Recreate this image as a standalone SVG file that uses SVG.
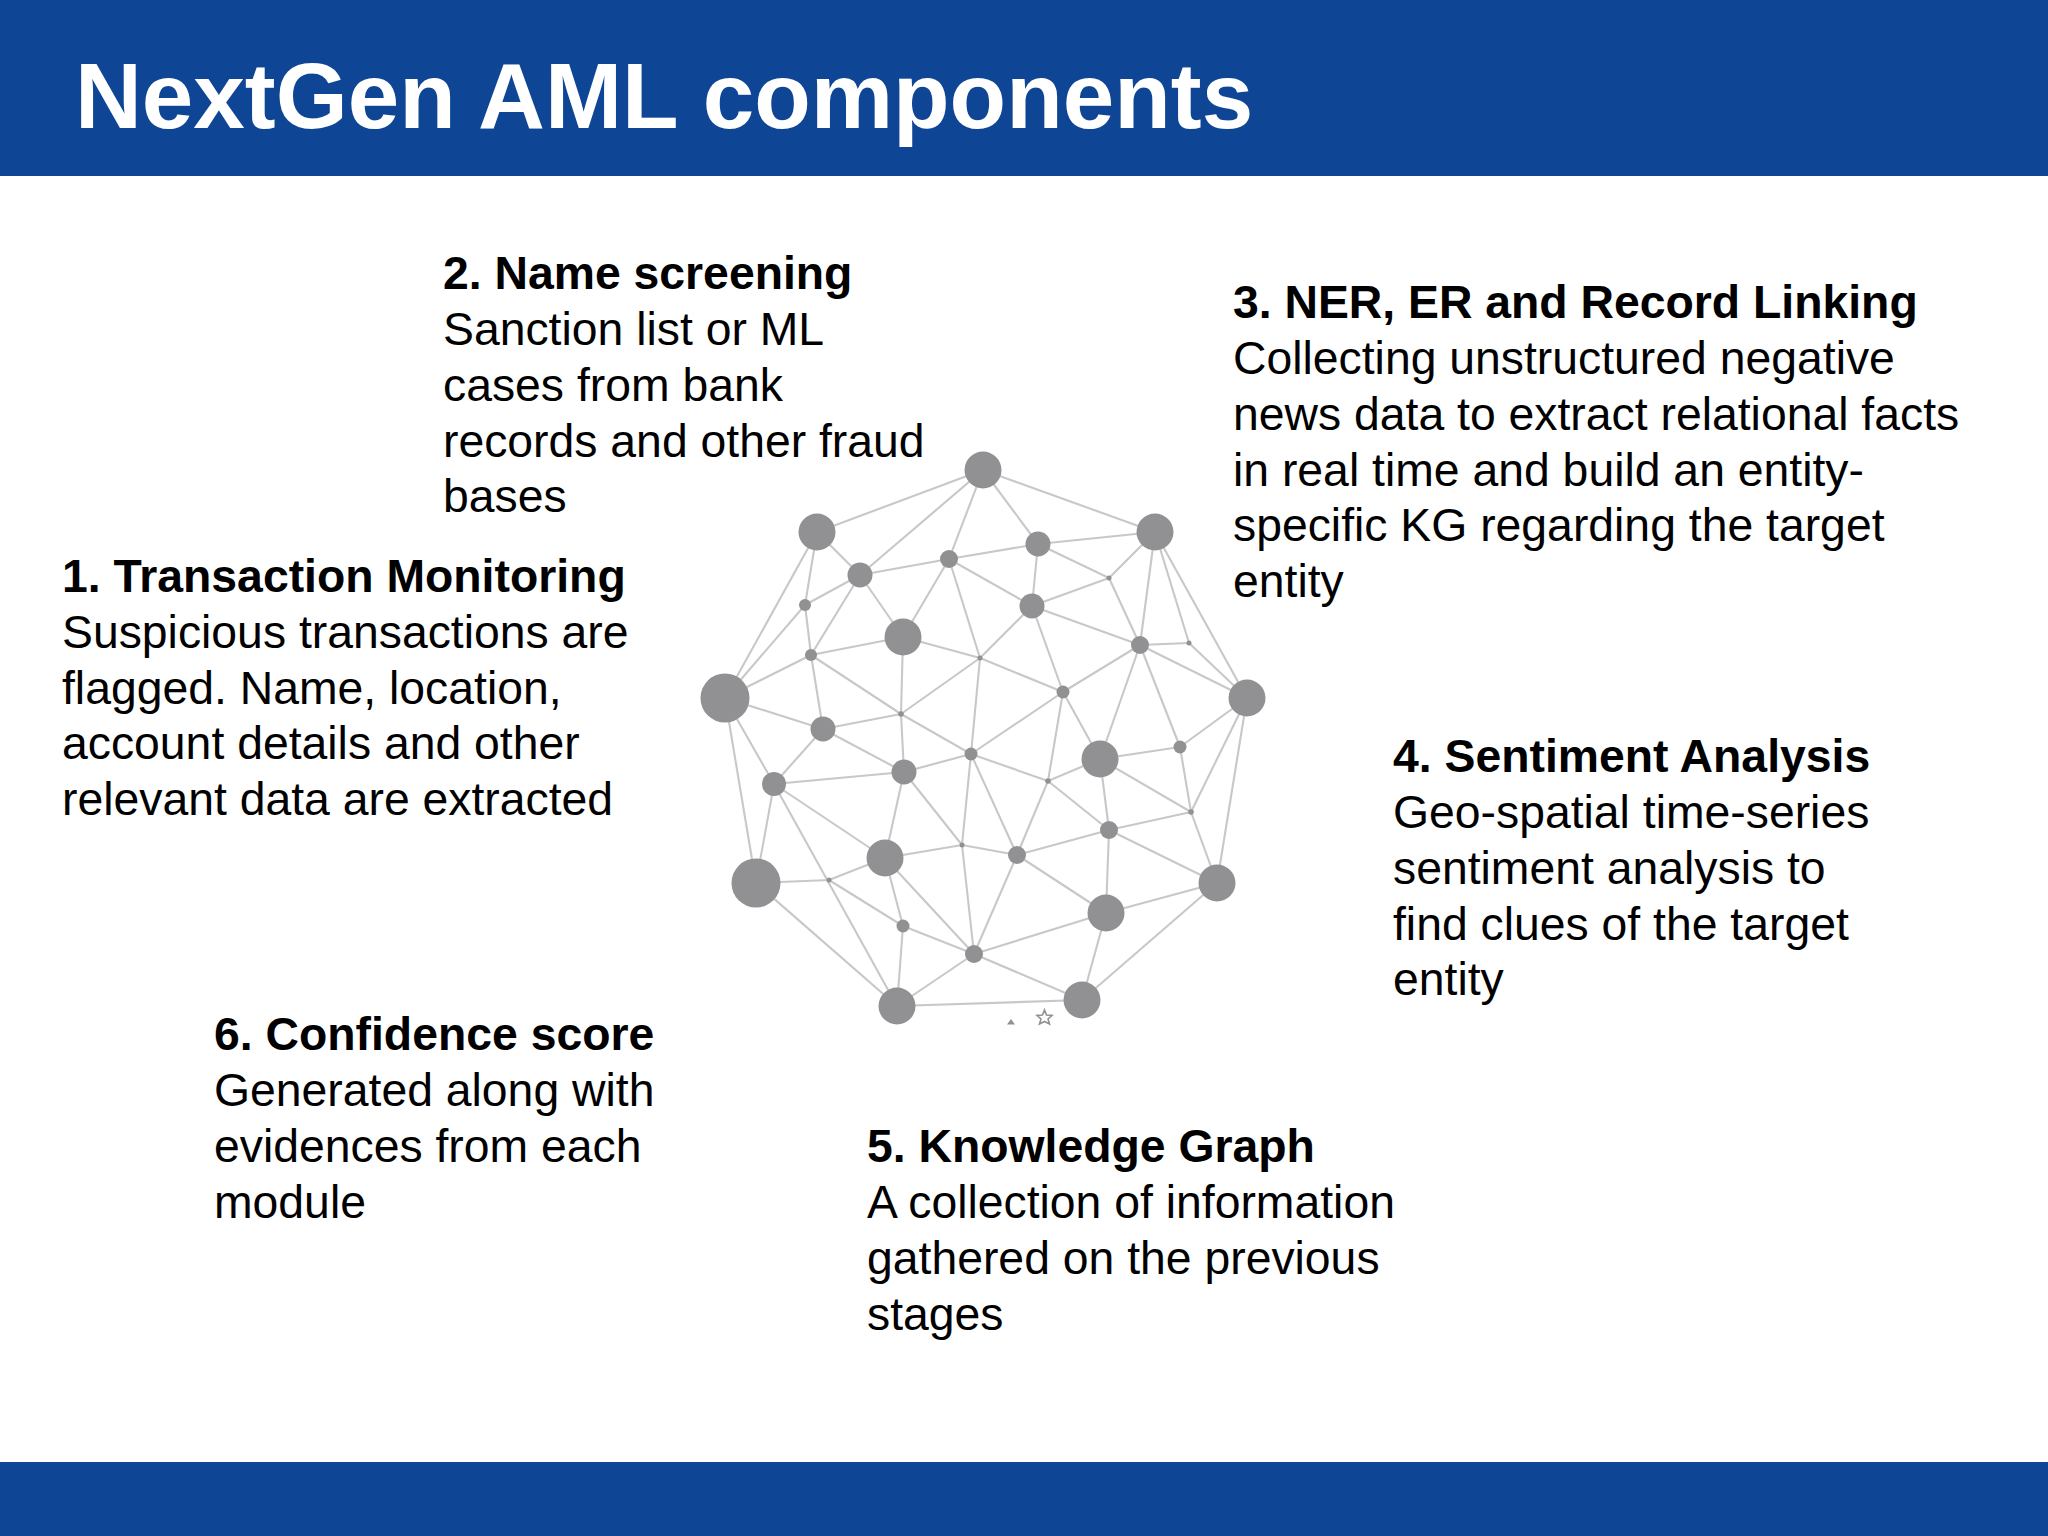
<svg xmlns="http://www.w3.org/2000/svg" width="2048" height="1536" viewBox="0 0 2048 1536">
<style>
text{font-family:"Liberation Sans",Arial,sans-serif;fill:#000;font-size:46.33px}
.h{font-weight:700}
.title{font-weight:700;font-size:92.6px;fill:#fff}
#edges line{stroke:#c8c8ca;stroke-width:2.1}
.n{fill:#919193}
</style>
<rect width="2048" height="1536" fill="#fff"/>
<rect id="header" width="2048" height="176" fill="#0f4595"/>
<rect id="footer" y="1462" width="2048" height="74" fill="#0f4595"/>
<text class="title" x="75" y="128">NextGen AML components</text>
<g id="edges">
<line x1="983" y1="470" x2="817" y2="532"/><line x1="983" y1="470" x2="860" y2="575"/><line x1="983" y1="470" x2="949" y2="559"/><line x1="983" y1="470" x2="1038" y2="544"/><line x1="983" y1="470" x2="1155" y2="532"/>
<line x1="817" y1="532" x2="860" y2="575"/><line x1="817" y1="532" x2="725" y2="698"/><line x1="817" y1="532" x2="805" y2="605"/>
<line x1="805" y1="605" x2="811" y2="655"/><line x1="805" y1="605" x2="860" y2="575"/><line x1="805" y1="605" x2="725" y2="698"/>
<line x1="860" y1="575" x2="811" y2="655"/><line x1="860" y1="575" x2="903" y2="637"/><line x1="860" y1="575" x2="949" y2="559"/>
<line x1="949" y1="559" x2="1038" y2="544"/><line x1="949" y1="559" x2="903" y2="637"/><line x1="949" y1="559" x2="980" y2="658"/><line x1="949" y1="559" x2="1032" y2="606"/>
<line x1="1038" y1="544" x2="1155" y2="532"/><line x1="1038" y1="544" x2="1032" y2="606"/><line x1="1038" y1="544" x2="1109" y2="578"/>
<line x1="1155" y1="532" x2="1109" y2="578"/><line x1="1155" y1="532" x2="1140" y2="645"/><line x1="1155" y1="532" x2="1189" y2="643"/><line x1="1155" y1="532" x2="1247" y2="698"/>
<line x1="1109" y1="578" x2="1032" y2="606"/><line x1="1109" y1="578" x2="1140" y2="645"/>
<line x1="1032" y1="606" x2="980" y2="658"/><line x1="1032" y1="606" x2="1140" y2="645"/><line x1="1032" y1="606" x2="1063" y2="692"/>
<line x1="903" y1="637" x2="811" y2="655"/><line x1="903" y1="637" x2="980" y2="658"/><line x1="903" y1="637" x2="901" y2="714"/>
<line x1="811" y1="655" x2="725" y2="698"/><line x1="811" y1="655" x2="823" y2="729"/><line x1="811" y1="655" x2="901" y2="714"/>
<line x1="980" y1="658" x2="901" y2="714"/><line x1="980" y1="658" x2="1063" y2="692"/><line x1="980" y1="658" x2="971" y2="754"/>
<line x1="1140" y1="645" x2="1189" y2="643"/><line x1="1140" y1="645" x2="1247" y2="698"/><line x1="1140" y1="645" x2="1063" y2="692"/><line x1="1140" y1="645" x2="1100" y2="759"/><line x1="1140" y1="645" x2="1180" y2="747"/>
<line x1="1189" y1="643" x2="1247" y2="698"/>
<line x1="1247" y1="698" x2="1180" y2="747"/><line x1="1247" y1="698" x2="1191" y2="812"/><line x1="1247" y1="698" x2="1217" y2="883"/>
<line x1="1063" y1="692" x2="1048" y2="781"/><line x1="1063" y1="692" x2="1100" y2="759"/><line x1="1063" y1="692" x2="971" y2="754"/>
<line x1="725" y1="698" x2="823" y2="729"/><line x1="725" y1="698" x2="756" y2="883"/><line x1="725" y1="698" x2="774" y2="784"/>
<line x1="823" y1="729" x2="901" y2="714"/><line x1="823" y1="729" x2="774" y2="784"/><line x1="823" y1="729" x2="904" y2="772"/>
<line x1="901" y1="714" x2="971" y2="754"/><line x1="901" y1="714" x2="904" y2="772"/>
<line x1="971" y1="754" x2="904" y2="772"/><line x1="971" y1="754" x2="962" y2="845"/><line x1="971" y1="754" x2="1017" y2="855"/><line x1="971" y1="754" x2="1048" y2="781"/>
<line x1="1100" y1="759" x2="1180" y2="747"/><line x1="1100" y1="759" x2="1048" y2="781"/><line x1="1100" y1="759" x2="1109" y2="830"/><line x1="1100" y1="759" x2="1191" y2="812"/>
<line x1="1180" y1="747" x2="1191" y2="812"/>
<line x1="1048" y1="781" x2="1109" y2="830"/><line x1="1048" y1="781" x2="1017" y2="855"/>
<line x1="1191" y1="812" x2="1109" y2="830"/><line x1="1191" y1="812" x2="1217" y2="883"/>
<line x1="1109" y1="830" x2="1017" y2="855"/><line x1="1109" y1="830" x2="1217" y2="883"/><line x1="1109" y1="830" x2="1106" y2="913"/>
<line x1="1017" y1="855" x2="962" y2="845"/><line x1="1017" y1="855" x2="1106" y2="913"/><line x1="1017" y1="855" x2="974" y2="954"/>
<line x1="962" y1="845" x2="885" y2="858"/><line x1="962" y1="845" x2="904" y2="772"/><line x1="962" y1="845" x2="974" y2="954"/>
<line x1="904" y1="772" x2="885" y2="858"/>
<line x1="774" y1="784" x2="904" y2="772"/><line x1="774" y1="784" x2="756" y2="883"/><line x1="774" y1="784" x2="885" y2="858"/><line x1="774" y1="784" x2="897" y2="1006"/>
<line x1="756" y1="883" x2="829" y2="880"/><line x1="829" y1="880" x2="885" y2="858"/><line x1="829" y1="880" x2="903" y2="926"/><line x1="756" y1="883" x2="897" y2="1006"/>
<line x1="885" y1="858" x2="903" y2="926"/><line x1="885" y1="858" x2="974" y2="954"/>
<line x1="903" y1="926" x2="974" y2="954"/><line x1="903" y1="926" x2="897" y2="1006"/>
<line x1="974" y1="954" x2="897" y2="1006"/><line x1="974" y1="954" x2="1106" y2="913"/><line x1="974" y1="954" x2="1082" y2="1000"/>
<line x1="897" y1="1006" x2="1082" y2="1000"/><line x1="1106" y1="913" x2="1082" y2="1000"/><line x1="1106" y1="913" x2="1217" y2="883"/><line x1="1082" y1="1000" x2="1217" y2="883"/>
</g>
<g id="graph-nodes">
<g id="n1"><circle class="n" cx="983" cy="470" r="18.5"/></g>
<g id="n2"><circle class="n" cx="817" cy="532" r="18.5"/></g>
<g id="n3"><circle class="n" cx="1155" cy="532" r="18.5"/></g>
<g id="n4"><circle class="n" cx="1038" cy="544" r="12.5"/></g>
<g id="n5"><circle class="n" cx="949" cy="559" r="9"/></g>
<g id="n6"><circle class="n" cx="860" cy="575" r="12.5"/></g>
<g id="n7"><circle class="n" cx="1109" cy="578" r="2.5"/></g>
<g id="n8"><circle class="n" cx="805" cy="605" r="6"/></g>
<g id="n9"><circle class="n" cx="1032" cy="606" r="12.5"/></g>
<g id="n10"><circle class="n" cx="903" cy="637" r="18.5"/></g>
<g id="n11"><circle class="n" cx="1140" cy="645" r="9"/></g>
<g id="n12"><circle class="n" cx="1189" cy="643" r="2.5"/></g>
<g id="n13"><circle class="n" cx="811" cy="655" r="6"/></g>
<g id="n14"><circle class="n" cx="980" cy="658" r="2.5"/></g>
<g id="n15"><circle class="n" cx="725" cy="698" r="24.5"/></g>
<g id="n16"><circle class="n" cx="1063" cy="692" r="6.5"/></g>
<g id="n17"><circle class="n" cx="1247" cy="698" r="18.5"/></g>
<g id="n18"><circle class="n" cx="823" cy="729" r="12.5"/></g>
<g id="n19"><circle class="n" cx="901" cy="714" r="2.8"/></g>
<g id="n20"><circle class="n" cx="971" cy="754" r="6.5"/></g>
<g id="n21"><circle class="n" cx="1100" cy="759" r="18.5"/></g>
<g id="n22"><circle class="n" cx="1180" cy="747" r="6.5"/></g>
<g id="n23"><circle class="n" cx="904" cy="772" r="12.5"/></g>
<g id="n24"><circle class="n" cx="774" cy="784" r="12"/></g>
<g id="n25"><circle class="n" cx="1048" cy="781" r="2.8"/></g>
<g id="n26"><circle class="n" cx="1191" cy="812" r="2.8"/></g>
<g id="n27"><circle class="n" cx="1109" cy="830" r="9"/></g>
<g id="n28"><circle class="n" cx="962" cy="845" r="2.5"/></g>
<g id="n29"><circle class="n" cx="1017" cy="855" r="9"/></g>
<g id="n30"><circle class="n" cx="885" cy="858" r="18.5"/></g>
<g id="n31"><circle class="n" cx="756" cy="883" r="24.5"/></g>
<g id="n32"><circle class="n" cx="1217" cy="883" r="18.5"/></g>
<g id="n33"><circle class="n" cx="829" cy="880" r="2.5"/></g>
<g id="n34"><circle class="n" cx="1106" cy="913" r="18.5"/></g>
<g id="n35"><circle class="n" cx="903" cy="926" r="6.5"/></g>
<g id="n36"><circle class="n" cx="974" cy="954" r="9"/></g>
<g id="n37"><circle class="n" cx="897" cy="1006" r="18.5"/></g>
<g id="n38"><circle class="n" cx="1082" cy="1000" r="18.5"/></g>
<polygon points="1011,1019 1015,1024.500 1007,1024.500" fill="#919193"/>
<polygon points="1044.500,1010 1046.500,1015 1052,1015.500 1048,1019 1049.500,1024 1044.500,1021.500 1039.500,1024 1041,1019 1037,1015.500 1042.500,1015" fill="#fff" stroke="#919193" stroke-width="1.6"/>
</g>
<g id="block1"><text class="h" x="62" y="592">1. Transaction Monitoring</text><text x="62" y="648">Suspicious transactions are</text><text x="62" y="703.500">flagged. Name, location,</text><text x="62" y="759">account details and other</text><text x="62" y="815">relevant data are extracted</text></g>
<g id="block2"><text class="h" x="443" y="289">2. Name screening</text><text x="443" y="345">Sanction list or ML</text><text x="443" y="401">cases from bank</text><text x="443" y="456.500">records and other fraud</text><text x="443" y="512">bases</text></g>
<g id="block3"><text class="h" x="1233" y="318">3. NER, ER and Record Linking</text><text x="1233" y="374">Collecting unstructured negative</text><text x="1233" y="430">news data to extract relational facts</text><text x="1233" y="485.500">in real time and build an entity-</text><text x="1233" y="541">specific KG regarding the target</text><text x="1233" y="597">entity</text></g>
<g id="block4"><text class="h" x="1393" y="772">4. Sentiment Analysis</text><text x="1393" y="828">Geo-spatial time-series</text><text x="1393" y="884">sentiment analysis to</text><text x="1393" y="939.500">find clues of the target</text><text x="1393" y="995">entity</text></g>
<g id="block5"><text class="h" x="867" y="1162">5. Knowledge Graph</text><text x="867" y="1218">A collection of information</text><text x="867" y="1274">gathered on the previous</text><text x="867" y="1329.500">stages</text></g>
<g id="block6"><text class="h" x="214" y="1050">6. Confidence score</text><text x="214" y="1106">Generated along with</text><text x="214" y="1162">evidences from each</text><text x="214" y="1217.500">module</text></g>
</svg>
